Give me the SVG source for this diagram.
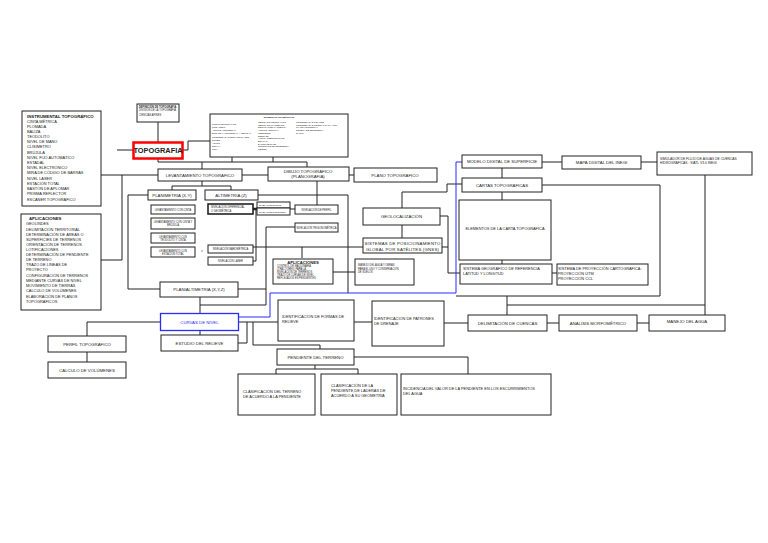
<svg xmlns="http://www.w3.org/2000/svg" width="768" height="543" viewBox="0 0 768 543">
<style>
rect.b{fill:#fff;stroke:#222;stroke-width:1}
text{font-family:'Liberation Sans',Arial,sans-serif;fill:#222}
.s{font-size:3.9px}
.m{font-size:4.3px}
.x{font-size:2.6px}
.e{font-size:2.2px}
.c{text-anchor:middle}
.bd{font-weight:bold}
#conn path{fill:none;stroke:#222;stroke-width:1}
#conn path.bl{stroke:#2b2bff}
</style>
<rect width="768" height="543" fill="#fff"/>
<g id="conn">
<path d="M117 150H133"/>
<path d="M158 122V142"/>
<path d="M183 150H188V141H210"/>
<path d="M158 159V162H307V168M232 157V162M273 157V162M202 162V169"/>
<path d="M101 175H160M122 175V260H101"/>
<path d="M242 175H268M349 175H354"/>
<path d="M202 181V186M172 190V186H231V190"/>
<path d="M148 195H128V289H160"/>
<path d="M258 195H348V293"/>
<path d="M317 181V205"/>
<path d="M295 227H266V305H200M238 289H266M200 297V313"/>
<path d="M363 247H253M302 258V247"/>
<path d="M253 261H256V210"/>
<path d="M253 209H257" style="stroke-width:2.5"/>
<path d="M290 209H295"/>
<path d="M333 272H355"/>
<path d="M402 208V192H447V184H462"/>
<path d="M440 216H448V273H460M442 247H448M402 225V238"/>
<path d="M542 162H562M641 162H657"/>
<path d="M502 168V178M502 192V200M502 260V264M552 273H557"/>
<path d="M542 185H660V296H456M507 296V315"/>
<path d="M705 175V315M507 305H705"/>
<path class="bl" d="M238 317H270V293H456V162H462"/>
<path d="M160 322H87V336M87 352V362M200 330V335"/>
<path d="M238 322H278M247 322V343H238M253 322V345H320V350"/>
<path d="M354 322H372M444 323H468M547 323H559M637 323H649"/>
<path d="M315 365V369M276 374V369H358V374M354 357H468V374"/>
</g>
<g id="instrumental">
<rect class="b" x="22" y="111" width="79" height="95"/>
<text class="m bd" x="27" y="117.5">INSTRUMENTAL TOPOGRÁFICO</text>
<text class="s" x="27" y="123">CINTA MÉTRICA</text>
<text class="s" x="27" y="128">PLOMADA</text>
<text class="s" x="27" y="133">BALIZA</text>
<text class="s" x="27" y="138">TEODOLITO</text>
<text class="s" x="27" y="143">NIVEL DE MANO</text>
<text class="s" x="27" y="148">CLISÍMETRO</text>
<text class="s" x="27" y="153.5">BRÚJULA</text>
<text class="s" x="27" y="158.5">NIVEL FIJO AUTOMÁTICO</text>
<text class="s" x="27" y="163.5">ESTADAL</text>
<text class="s" x="27" y="169">NIVEL ELECTRÓNICO</text>
<text class="s" x="27" y="174">MIRA DE CÓDIGO DE BARRAS</text>
<text class="s" x="27" y="180">NIVEL LÁSER</text>
<text class="s" x="27" y="185">ESTACIÓN TOTAL</text>
<text class="s" x="27" y="190">BASTÓN DE APLOMAR</text>
<text class="s" x="27" y="195">PRISMA REFLECTOR</text>
<text class="s" x="27" y="201">ESCÁNER TOPOGRÁFICO</text>
</g>
<g id="aplicaciones">
<rect class="b" x="21" y="214" width="80" height="96"/>
<text class="m bd" x="29" y="219.5">APLICACIONES</text>
<text class="s" x="26" y="225">GEOLINDES</text>
<text class="s" x="26" y="230.5">DELIMITACIÓN TERRITORIAL</text>
<text class="s" x="26" y="236">DETERMINACIÓN DE ÁREAS O</text>
<text class="s" x="26" y="240.5">SUPERFICIES DE TERRENOS</text>
<text class="s" x="26" y="246">ORIENTACIÓN DE TERRENOS</text>
<text class="s" x="26" y="251">LOTIFICACIONES</text>
<text class="s" x="26" y="256">DETERMINACIÓN DE PENDIENTE</text>
<text class="s" x="26" y="261">DE TERRENO</text>
<text class="s" x="26" y="266">TRAZO DE LÍNEAS DE</text>
<text class="s" x="26" y="271">PROYECTO</text>
<text class="s" x="26" y="277">CONFIGURACIÓN DE TERRENOS</text>
<text class="s" x="26" y="282">MEDIANTE CURVAS DE NIVEL</text>
<text class="s" x="26" y="287">MOVIMIENTO DE TIERRAS</text>
<text class="s" x="26" y="292">CÁLCULO DE VOLÚMENES</text>
<text class="s" x="26" y="298">ELABORACIÓN DE PLANOS</text>
<text class="s" x="26" y="303">TOPOGRÁFICOS</text>
</g>
<g id="definicion">
<rect class="b" x="137" y="104" width="42" height="18"/>
<text class="x bd" x="139" y="108">DEFINICIÓN DE TOPOGRAFÍA</text>
<text class="x" x="139" y="111">DIVISIÓN DE LA TOPOGRAFÍA</text>
<text class="x" x="139" y="116">CIENCIAS AFINES</text>
</g>
<g id="topografia">
<rect x="133.5" y="142.5" width="49" height="16" fill="#fff" stroke="#f00" stroke-width="2.5"/>
<text class="bd c" x="158" y="153.3" style="font-size:7.4px">TOPOGRAFIA</text>
</g>
<g id="elementos">
<rect class="b" x="210" y="114" width="138" height="43"/>
<text class="e bd c" x="279" y="117.5">ELEMENTOS GEOMÉTRICOS</text>
<text class="e" x="212" y="124.5">PUNTO TOPOGRÁFICO</text>
<text class="e" x="212" y="127.7">LÍNEA RECTA</text>
<text class="e" x="212" y="130.9">ÁNGULO HORIZONTAL</text>
<text class="e" x="212" y="134.1">DISTANCIA HORIZONTAL Y VERTICAL</text>
<text class="e" x="212" y="137.8">COORDENADAS RECTANGULARES</text>
<text class="e" x="212" y="141">RUMBO</text>
<text class="e" x="212" y="144">AZIMUT</text>
<text class="e" x="212" y="147">ESCALA</text>
<text class="e" x="212" y="150.2">COTA</text>
<text class="e" x="258" y="123">MERIDIANO GEOGRÁFICO</text>
<text class="e" x="258" y="125.7">MERIDIANO MAGNÉTICO</text>
<text class="e" x="258" y="128.4">DECLINACIÓN MAGNÉTICA</text>
<text class="e" x="258" y="131.1">ÁNGULO VERTICAL</text>
<text class="e" x="258" y="133.8">PENDIENTE</text>
<text class="e" x="258" y="136.5">DESNIVEL</text>
<text class="e" x="258" y="139.2">ALTURA SOBRE EL NIVEL</text>
<text class="e" x="258" y="141.9">DEL MAR</text>
<text class="e" x="258" y="144.6">BANCO DE NIVEL</text>
<text class="e" x="258" y="147.3">SUPERFICIE DE REFERENCIA</text>
<text class="e" x="258" y="150">GEOIDE</text>
<text class="e" x="296" y="123">COORDENADAS POLARES</text>
<text class="e" x="296" y="125.7">COORDENADAS GEOGRÁFICAS Y UTM</text>
<text class="e" x="296" y="128.4">PLANO HORIZONTAL</text>
<text class="e" x="296" y="131.1">SISTEMA DE REFERENCIA</text>
<text class="e" x="296" y="133.8">DATUM</text>
</g>
<g id="levantamiento">
<rect class="b" x="158" y="169" width="84" height="12"/>
<text class="m c" x="200" y="176.6">LEVANTAMIENTO TOPOGRÁFICO</text>
</g>
<g id="dibujo">
<rect class="b" x="268" y="167" width="81" height="14"/>
<text class="m c" x="308" y="173">DIBUJO TOPOGRÁFICO</text>
<text class="m c" x="308" y="178">(PLANOGRAFÍA)</text>
</g>
<g id="plano">
<rect class="b" x="354" y="168" width="83" height="14"/>
<text class="m c" x="395" y="176.5">PLANO TOPOGRÁFICO</text>
</g>
<g id="planimetria">
<rect class="b" x="148" y="190" width="48" height="10"/>
<text class="m c" x="172" y="196.6">PLANIMETRÍA (X,Y)</text>
</g>
<g id="altimetria">
<rect class="b" x="205" y="190" width="53" height="10"/>
<text class="m c" x="231" y="196.6">ALTIMETRÍA (Z)</text>
</g>
<g id="lev1"><rect class="b" x="151" y="205" width="44" height="9"/><text class="x c" x="173" y="210.5">LEVANTAMIENTO CON CINTA</text></g>
<g id="lev2"><rect class="b" x="151" y="218" width="44" height="11"/><text class="x c" x="173" y="222.5">LEVANTAMIENTO CON CINTA Y</text><text class="x c" x="173" y="226">BRÚJULA</text></g>
<g id="lev3"><rect class="b" x="151" y="233" width="44" height="10"/><text class="x c" x="173" y="237.5">LEVANTAMIENTO CON</text><text class="x c" x="173" y="241">TEODOLITO Y CINTA</text></g>
<g id="lev4"><rect class="b" x="151" y="247" width="44" height="10"/><text class="x c" x="173" y="251.5">LEVANTAMIENTO CON</text><text class="x c" x="173" y="255">ESTACIÓN TOTAL</text></g>
<g id="niv-dif"><rect class="b" x="208" y="204" width="45" height="10" style="stroke-width:1.6"/><text class="x" x="211" y="208.3">NIVELACIÓN DIFERENCIAL</text><text class="x" x="211" y="211.8">O GEOMÉTRICA</text></g>
<g id="niv-simple"><rect class="b" x="257" y="202" width="33" height="6"/><text class="e" x="259" y="206">NIVELACIÓN SIMPLE</text></g>
<g id="niv-comp"><rect class="b" x="257" y="208" width="33" height="7"/><text class="e" x="259" y="212.5">NIVELACIÓN COMPUESTA</text></g>
<g id="niv-perfil"><rect class="b" x="295" y="205" width="43" height="9"/><text class="x c" x="316.5" y="210.5">NIVELACIÓN DE PERFIL</text></g>
<g id="niv-trig"><rect class="b" x="295" y="223" width="43" height="9"/><text class="x c" x="316.5" y="228.5">NIVELACIÓN TRIGONOMÉTRICA</text></g>
<g id="niv-baro"><rect class="b" x="208" y="245" width="45" height="8"/><text class="x c" x="230.5" y="250">NIVELACIÓN BAROMÉTRICA</text></g>
<g id="niv-laser"><rect class="b" x="208" y="257" width="45" height="8"/><text class="x c" x="230.5" y="262">NIVELACIÓN LÁSER</text></g>
<rect x="201.5" y="250.5" width="1" height="1" fill="#222"/>
<g id="aplic2">
<rect class="b" x="273" y="259" width="60" height="25"/>
<text class="bd c" x="303" y="263.5" style="font-size:4.2px">APLICACIONES</text>
<text class="x" x="277" y="267">CONTROL DE MAQUINARIA</text>
<text class="x" x="277" y="270">(TRACTORES) PARA LA</text>
<text class="x" x="277" y="273">NIVELACIÓN DE TERRENOS</text>
<text class="x" x="277" y="276">TRAZO DE CURVAS DE NIVEL</text>
<text class="x" x="277" y="279">REFLEJADOS EN PENDIENTES</text>
</g>
<g id="manejo-obras">
<rect class="b" x="355" y="259" width="59" height="26"/>
<text class="x" x="358" y="266">MANEJO DEL AGUA Y OBRAS</text>
<text class="x" x="358" y="269.5">PARA EL USO Y CONSERVACIÓN</text>
<text class="x" x="358" y="273">DE SUELOS</text>
</g>
<g id="geolocalizacion">
<rect class="b" x="363" y="208" width="77" height="17"/>
<text class="m c" x="401.5" y="217.8">GEOLOCALIZACIÓN</text>
</g>
<g id="gnss">
<rect class="b" x="363" y="238" width="79" height="15"/>
<text class="m c" x="402.5" y="244.5" style="letter-spacing:0.2px">SISTEMAS DE POSICIONAMIENTO</text>
<text class="m c" x="402.5" y="250.5" style="letter-spacing:0.2px">GLOBAL POR SATÉLITES (GNSS)</text>
</g>
<g id="modelo">
<rect class="b" x="462" y="155" width="80" height="13"/>
<text class="m c" x="502" y="163.3">MODELO DIGITAL DE SUPERFICIE</text>
</g>
<g id="mapa">
<rect class="b" x="562" y="156" width="79" height="13"/>
<text class="m c" x="601.5" y="164">MAPA DIGITAL DEL INEGI</text>
</g>
<g id="simulador">
<rect class="b" x="657" y="152" width="95" height="23"/>
<text class="x" x="660" y="159.5" style="font-size:3.3px">SIMULADOR DE FLUJO DE AGUAS DE CUENCAS</text>
<text class="x" x="660" y="164" style="font-size:3.3px">HIDROGRÁFICAS : SIATL V3.0  INEGI</text>
</g>
<g id="cartas">
<rect class="b" x="462" y="178" width="80" height="14"/>
<text class="m c" x="502" y="186.5">CARTAS TOPOGRÁFICAS</text>
</g>
<g id="elementos-carta">
<rect class="b" x="459" y="200" width="92" height="60"/>
<text class="s c" x="505" y="230">ELEMENTOS DE LA CARTA TOPOGRÁFICA</text>
</g>
<g id="sist-geo">
<rect class="b" x="460" y="264" width="92" height="20"/>
<text class="s" x="463" y="270">SISTEMA GEOGRÁFICO DE REFERENCIA</text>
<text class="s" x="463" y="274.5">LATITUD Y LONGITUD</text>
</g>
<g id="sist-proy">
<rect class="b" x="557" y="264" width="91" height="21"/>
<text class="s" x="558" y="269.5">SISTEMA DE PROYECCIÓN CARTOGRÁFICA:</text>
<text class="s" x="558" y="274.5">PROYECCIÓN UTM</text>
<text class="s" x="558" y="280">PROYECCIÓN CCL</text>
</g>
<g id="planialtimetria">
<rect class="b" x="160" y="282" width="78" height="15"/>
<text class="m c" x="199" y="291">PLANIALTIMETRÍA (X,Y,Z)</text>
</g>
<g id="curvas">
<rect x="160.5" y="313.5" width="78" height="17" fill="#fff" stroke="#2b2bff" stroke-width="1.3"/>
<text class="m c" x="199.5" y="323.5" style="fill:#2b2bff">CURVAS DE NIVEL</text>
</g>
<g id="estudio">
<rect class="b" x="161" y="335" width="77" height="16"/>
<text class="m c" x="199.5" y="344.5">ESTUDIO DEL RELIEVE</text>
</g>
<g id="perfil">
<rect class="b" x="48" y="336" width="78" height="16"/>
<text class="m c" x="87" y="345.5">PERFIL TOPOGRÁFICO</text>
</g>
<g id="volumenes">
<rect class="b" x="48" y="362" width="78" height="16"/>
<text class="m c" x="87" y="371.5">CÁLCULO DE VOLÚMENES</text>
</g>
<g id="formas">
<rect class="b" x="278" y="300" width="76" height="41"/>
<text class="s" x="282" y="318">IDENTIFICACIÓN DE FORMAS DE</text>
<text class="s" x="282" y="323">RELIEVE</text>
</g>
<g id="patrones">
<rect class="b" x="372" y="301" width="72" height="45"/>
<text class="s" x="374" y="320">IDENTIFICACIÓN DE PATRONES</text>
<text class="s" x="374" y="325">DE DRENAJE</text>
</g>
<g id="delimitacion">
<rect class="b" x="468" y="315" width="79" height="16"/>
<text class="m c" x="507.5" y="324.5">DELIMITACIÓN DE CUENCAS</text>
</g>
<g id="analisis">
<rect class="b" x="559" y="315" width="78" height="16"/>
<text class="m c" x="598" y="324.5">ANALISIS MORFOMÉTRICO</text>
</g>
<g id="manejo-agua">
<rect class="b" x="649" y="315" width="76" height="16"/>
<text class="m c" x="687" y="323">MANEJO DEL AGUA</text>
</g>
<g id="pendiente">
<rect class="b" x="277" y="349" width="77" height="16"/>
<text class="m c" x="315.5" y="358.5">PENDIENTE DEL TERRENO</text>
</g>
<g id="clas1">
<rect class="b" x="238" y="374" width="77" height="41"/>
<text class="s" x="243" y="392.5">CLASIFICACIÓN DEL TERRENO</text>
<text class="s" x="243" y="397.5">DE ACUERDO A LA PENDIENTE</text>
</g>
<g id="clas2">
<rect class="b" x="321" y="374" width="76" height="41"/>
<text class="s" x="331" y="386.5">CLASIFICACIÓN DE LA</text>
<text class="s" x="331" y="391.5">PENDIENTE DE LADERAS DE</text>
<text class="s" x="331" y="397">ACUERDO A SU GEOMETRÍA</text>
</g>
<g id="incidencia">
<rect class="b" x="401" y="374" width="150" height="41"/>
<text class="s" x="403" y="390">INCIDENCIA DEL VALOR DE LA PENDIENTE EN LOS ESCURRIMIENTOS</text>
<text class="s" x="403" y="395">DEL AGUA</text>
</g>
</svg>
